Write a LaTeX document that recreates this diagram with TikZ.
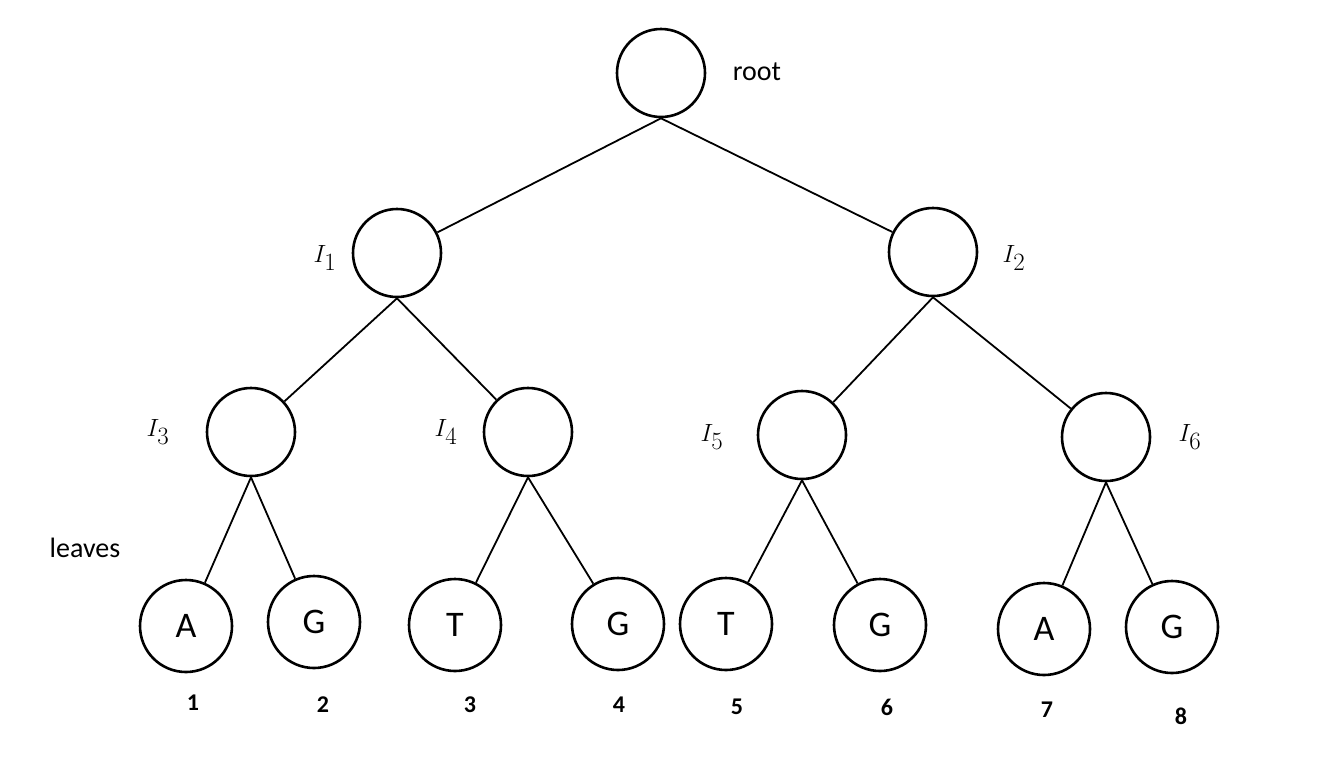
\documentclass[tikz,border=0pt]{standalone}
\usepackage{fontspec}
\setmainfont{Carlito}
\begin{document}
\begin{tikzpicture}[x=1pt,y=-1pt,
  nd/.style={circle,draw,line width=2.6pt,minimum size=88pt,inner sep=0pt,font=\fontsize{36}{36}\selectfont},
  lf/.style={nd,minimum size=92pt},
  ed/.style={line width=1.8pt},
  lab/.style={font=\fontsize{40}{40}\selectfont},
  num/.style={font=\bfseries\fontsize{24}{24}\selectfont},
  txt/.style={font=\fontsize{28}{28}\selectfont}]
\useasboundingbox (0,0) rectangle (1340,758);
\node[nd] (root) at (661,73) {};
\node[nd] (I1) at (397,253) {};
\node[nd] (I2) at (933,252) {};
\node[nd] (I3) at (251,432) {};
\node[nd] (I4) at (528,432) {};
\node[nd] (I5) at (802,435) {};
\node[nd] (I6) at (1106,437) {};
\node[lf] (L1) at (186,626) {A};
\node[lf] (L2) at (314,622) {G};
\node[lf] (L3) at (455,625) {T};
\node[lf] (L4) at (618,624) {G};
\node[lf] (L5) at (726,624) {T};
\node[lf] (L6) at (880,625) {G};
\node[lf] (L7) at (1044,629) {A};
\node[lf] (L8) at (1172,627) {G};
\draw[ed] (root.south) -- (I1); \draw[ed] (root.south) -- (I2);
\draw[ed] (I1.south) -- (I3); \draw[ed] (I1.south) -- (I4);
\draw[ed] (I2.south) -- (I5); \draw[ed] (I2.south) -- (I6);
\draw[ed] (I3.south) -- (L1); \draw[ed] (I3.south) -- (L2);
\draw[ed] (I4.south) -- (L3); \draw[ed] (I4.south) -- (L4);
\draw[ed] (I5.south) -- (L5); \draw[ed] (I5.south) -- (L6);
\draw[ed] (I6.south) -- (L7); \draw[ed] (I6.south) -- (L8);
\node[txt] (troot) at (757,72) {root};
\node[txt] (tleaves) at (85,548) {leaves};
\node[lab] (t1) at (325,258) {$I_1$};
\node[lab] (t2) at (1014,258) {$I_2$};
\node[lab] (t3) at (158,432) {$I_3$};
\node[lab] (t4) at (446,432) {$I_4$};
\node[lab] (t5) at (712,437) {$I_5$};
\node[lab] (t6) at (1190,437) {$I_6$};
\node[num] (n1) at (193,703) {1};
\node[num] (n2) at (323,705) {2};
\node[num] (n3) at (470,705) {3};
\node[num] (n4) at (619,705) {4};
\node[num] (n5) at (737,707) {5};
\node[num] (n6) at (887,707) {6};
\node[num] (n7) at (1047,710) {7};
\node[num] (n8) at (1181,716) {8};
\end{tikzpicture}
\end{document}
